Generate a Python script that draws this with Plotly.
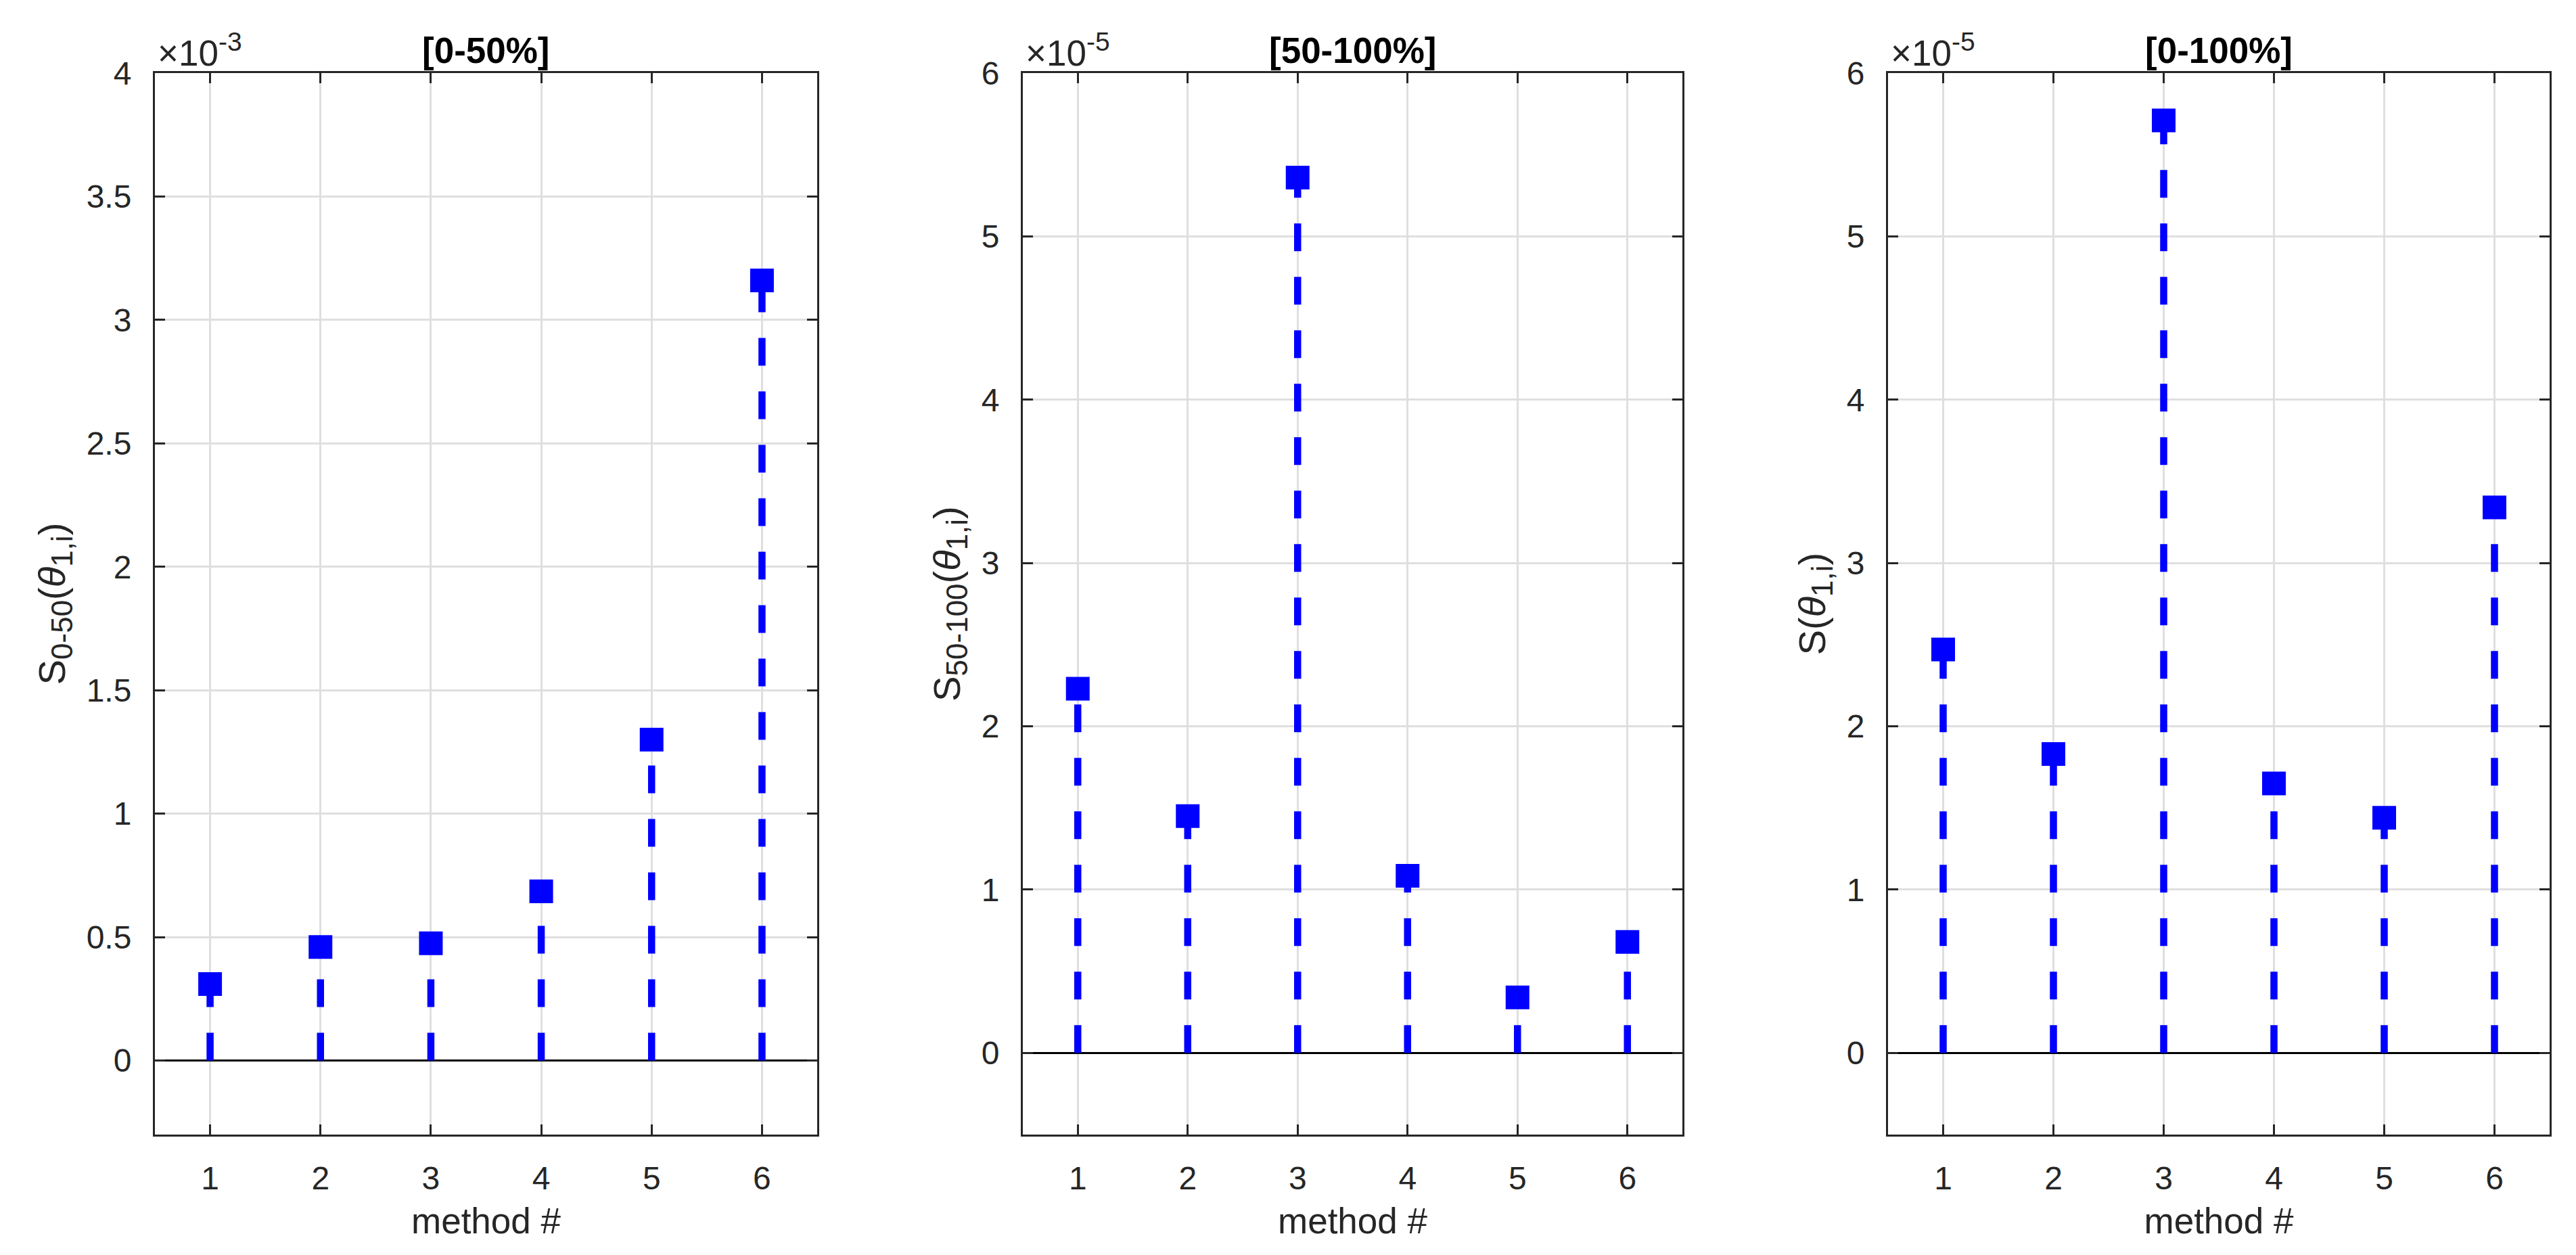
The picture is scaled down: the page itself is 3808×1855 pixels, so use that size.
import plotly.graph_objects as go

# ---- data ----
methods = [1, 2, 3, 4, 5, 6]
s_0_50 = [0.31, 0.46, 0.475, 0.685, 1.30, 3.16]      # x 1e-3
s_50_100 = [2.23, 1.45, 5.36, 1.085, 0.34, 0.68]     # x 1e-5
s_0_100 = [2.47, 1.83, 5.71, 1.65, 1.44, 3.34]       # x 1e-5

titles = ["[0-50%]", "[50-100%]", "[0-100%]"]
SUB = "<sub><span style='font-size:44px'>%s</span></sub>"
ylabels = ["S" + SUB % "0-50" + "(<i>θ</i>" + SUB % "1,i" + ")",
           "S" + SUB % "50-100" + "(<i>θ</i>" + SUB % "1,i" + ")",
           "S(<i>θ</i>" + SUB % "1,i" + ")"]
exponents = [-3, -5, -5]
yranges = [[-0.3, 4], [-0.5, 6], [-0.5, 6]]
ydticks = [0.5, 1, 1]
series = [s_0_50, s_50_100, s_0_100]

W, H = 3808, 1855
xdomains = [[229 / W, 1208 / W], [1512 / W, 2487 / W], [2791 / W, 3769 / W]]
ydomain = [1 - 1677 / H, 1 - 108 / H]

FONT = "Liberation Sans, Arial, Helvetica, sans-serif"
AXC = "#262626"
BLUE = "#0000FF"

fig = go.Figure()

for i, vals in enumerate(series):
    ax = "" if i == 0 else str(i + 1)
    # stems
    sx, sy = [], []
    for m, v in zip(methods, vals):
        sx += [m, m, None]
        sy += [0, v, None]
    fig.add_trace(go.Scatter(
        x=sx, y=sy, mode="lines",
        line=dict(color=BLUE, width=10.5, dash="41px,38px"),
        xaxis="x" + ax, yaxis="y" + ax, showlegend=False, hoverinfo="skip"))
    fig.add_trace(go.Scatter(
        x=methods, y=vals, mode="markers",
        marker=dict(symbol="square", size=35, color=BLUE, line=dict(width=0)),
        xaxis="x" + ax, yaxis="y" + ax, showlegend=False))

    common = dict(showline=True, linecolor=AXC, linewidth=3, mirror="ticks",
                  ticks="inside", ticklen=15, tickwidth=3, tickcolor=AXC,
                  showgrid=True, gridcolor="#DFDFDF", gridwidth=3, automargin=False,
                  tickfont=dict(family=FONT, size=48, color=AXC))
    fig.layout["xaxis" + ax] = dict(
        domain=xdomains[i], range=[0.5, 6.5], tickvals=methods,
        anchor="y" + ax, zeroline=False, ticklabelstandoff=20,
        title=dict(text="method #", font=dict(family=FONT, size=53, color=AXC), standoff=20),
        **common)
    fig.layout["yaxis" + ax] = dict(
        domain=ydomain, range=yranges[i], dtick=ydticks[i], tick0=0,
        anchor="x" + ax, zeroline=True, zerolinecolor="#000000", zerolinewidth=3,
        ticklabelstandoff=22,
        title=dict(text=ylabels[i], font=dict(family=FONT, size=56, color=AXC), standoff=14),
        **common)

    xref = "x" + ax + " domain"
    yref = "y" + ax + " domain"
    fig.add_annotation(text="<b>" + titles[i] + "</b>", xref=xref, yref=yref,
                       x=0.5, y=1, xanchor="center", yanchor="bottom", yshift=2,
                       showarrow=False, font=dict(family=FONT, size=53, color="#000000"))
    fig.add_annotation(text="×10<sup><span style='font-size:39px'>%d</span></sup>" % exponents[i],
                       xref=xref, yref=yref,
                       x=0, y=1, xanchor="left", yanchor="bottom", yshift=-2, xshift=2,
                       showarrow=False, font=dict(family=FONT, size=53, color=AXC))

fig.update_layout(width=W, height=H, margin=dict(l=0, r=0, t=0, b=0, autoexpand=False),
                  plot_bgcolor="white", paper_bgcolor="white")

fig.write_html("out.html", config={"displayModeBar": False},
               post_script="document.body.style.margin='0';document.body.style.overflow='hidden';")
